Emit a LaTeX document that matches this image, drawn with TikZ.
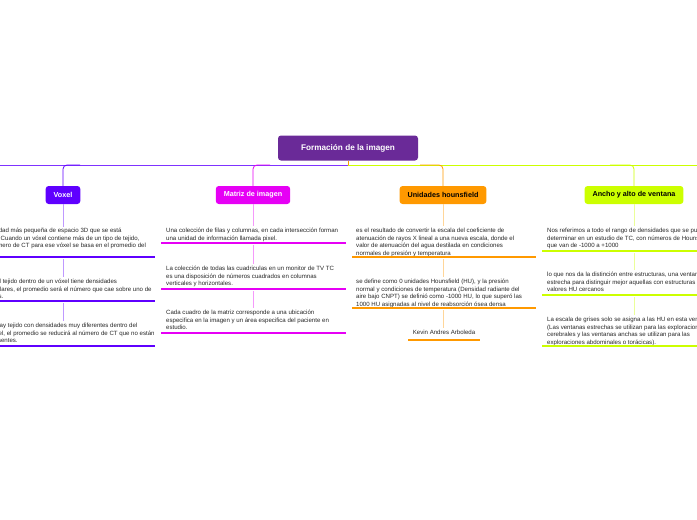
\documentclass[tikz,border=0pt]{standalone}
\usepackage{fontspec}
\setmainfont{Liberation Sans}
\definecolor{colV}{HTML}{5F00FF}
\definecolor{colM}{HTML}{E600F5}
\definecolor{colU}{HTML}{FF9900}
\definecolor{colA}{HTML}{CCFF00}
\definecolor{colC}{HTML}{6A2A98}
\begin{document}
\begin{tikzpicture}[x=1pt,y=-1pt,
  hub/.style={fill=#1,rounded corners=3pt,text=white,font=\bfseries\fontsize{7.2}{8}\selectfont,minimum height=18,inner xsep=8},
  txt/.style={anchor=north west,align=left,font=\fontsize{6.1}{7.6}\selectfont,inner sep=0,text=black!85},
  ul/.style={line width=2.2pt,draw=#1},
  vl/.style={line width=0.8pt,draw=#1!40}]
\useasboundingbox (0,0) rectangle (697,520);
\clip (0,0) rectangle (697,520);
\node[fill=colC,rounded corners=3pt,text=white,font=\bfseries\fontsize{8.2}{9}\selectfont,minimum width=140,minimum height=25] (c) at (348,148) {Formación de la imagen};
% top line
\draw[colV!80,line width=0.8pt] (0,165) -- (348,165);
\draw[colA,line width=0.8pt] (348,165) -- (697,165);
\draw[colU,line width=0.8pt] (c.south) -- (348,165);
\node[hub=colV] (v) at (63,195) {Voxel};
\node[hub=colM] (m) at (253,195) {Matriz de imagen};
\node[hub=colU,text=black] (u) at (443,195) {Unidades hounsfield};
\node[hub=colA,text=black] (a) at (634,195) {Ancho y alto de ventana};
\draw[colV,line width=0.8pt,rounded corners=4pt] (v.north) |- (80,165);
\draw[colM,line width=0.8pt,rounded corners=4pt] (m.north) |- (270,165);
\draw[colU,line width=0.8pt,rounded corners=4pt] (u.north) |- (420,165);
\draw[colA,line width=0.8pt,rounded corners=4pt] (a.north) |- (610,165);
% Voxel column
\node[txt] (v1) at (-18,228) {La unidad más pequeña de espacio 3D que se está\\tejido. Cuando un vóxel contiene más de un tipo de tejido,\\\hspace*{2pt}el número de CT para ese vóxel se basa en el promedio del\\tejido.};
\draw[ul=colV] (-40,257) -- (155,257);
\node[txt] (v2) at (-11,279) {Si el tejido dentro de un vóxel tiene densidades\\similares, el promedio será el número que cae sobre uno de\\ellos.};
\draw[ul=colV] (-40,301) -- (155,301);
\node[txt] (v3) at (-11,323) {Si hay tejido con densidades muy diferentes dentro del\\vóxel, el promedio se reducirá al número de CT que no están\\presentes.};
\draw[ul=colV] (-40,346) -- (155,346);
\draw[vl=colV] (v.south) -- (63,227);
\draw[vl=colV] (63,259) -- (63,277);
\draw[vl=colV] (63,303) -- (63,321);
% Matriz column
\node[txt] (m1) at (166,228) {Una colección de filas y columnas, en cada intersección forman\\una unidad de información llamada pixel.};
\draw[ul=colM] (161,243) -- (346,243);
\node[txt] (m2) at (166,266) {La colección de todas las cuadriculas en un monitor de TV TC\\es una disposición de números cuadrados en columnas\\verticales y horizontales.};
\draw[ul=colM] (161,289) -- (346,289);
\node[txt] (m3) at (166,310) {Cada cuadro de la matriz corresponde a una ubicación\\especifica en la imagen y un área especifica del paciente en\\estudio.};
\draw[ul=colM] (161,333) -- (346,333);
\draw[vl=colM] (m.south) -- (253,226);
\draw[vl=colM] (253,245) -- (253,264);
\draw[vl=colM] (253,291) -- (253,308);
% Unidades column
\node[txt] (u1) at (356,228) {es el resultado de convertir la escala del coeficiente de\\atenuación de rayos X lineal a una nueva escala, donde el\\valor de atenuación del agua destilada en condiciones\\normales de presión y temperatura};
\draw[ul=colU] (352,257) -- (536,257);
\node[txt] (u2) at (356,279) {se define como 0 unidades Hounsfield (HU), y la presión\\normal y condiciones de temperatura (Densidad radiante del\\aire bajo CNPT) se definió como -1000 HU, lo que superó las\\1000 HU asignadas al nivel de reabsorción ósea densa};
\draw[ul=colU] (352,308) -- (536,308);
\node[txt,anchor=north] (u3) at (444,330) {Kevin Andres Arboleda};
\draw[ul=colU] (408,340) -- (480,340);
\draw[vl=colU] (u.south) -- (443,226);
\draw[vl=colU] (443,259) -- (443,277);
\draw[vl=colU] (443,310) -- (443,328);
% Ancho column
\node[txt] (a1) at (547,228) {Nos referimos a todo el rango de densidades que se pueden\\determinar en un estudio de TC, con números de Hounsfield\\que van de -1000 a +1000};
\draw[ul=colA] (542,251) -- (730,251);
\node[txt] (a2) at (547,272) {lo que nos da la distinción entre estructuras, una ventana\\estrecha para distinguir mejor aquellas con estructuras con\\valores HU cercanos};
\draw[ul=colA] (542,295) -- (730,295);
\node[txt] (a3) at (547,317) {La escala de grises solo se asigna a las HU en esta ventana\\(Las ventanas estrechas se utilizan para las exploraciones\\cerebrales y las ventanas anchas se utilizan para las\\exploraciones abdominales o torácicas).};
\draw[ul=colA] (542,346) -- (730,346);
\draw[vl=colA] (a.south) -- (634,226);
\draw[vl=colA] (634,253) -- (634,270);
\draw[vl=colA] (634,297) -- (634,315);
\end{tikzpicture}
\end{document}
